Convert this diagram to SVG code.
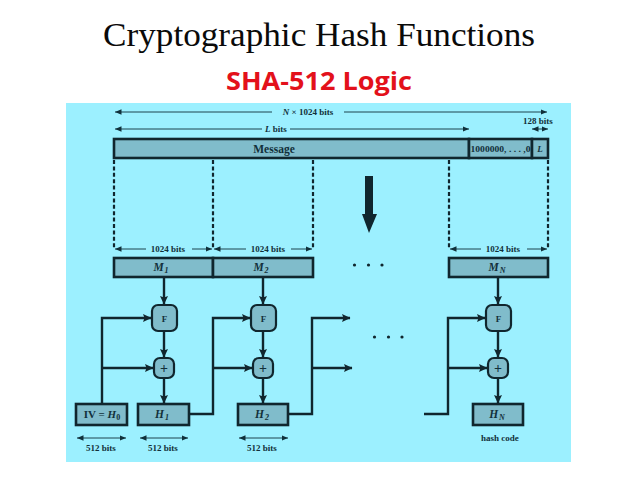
<svg xmlns="http://www.w3.org/2000/svg" width="638" height="478" viewBox="0 0 638 478">
<style>
.box{fill:#80bccb;stroke:#10262e;stroke-width:2.6}
.rbox{fill:#80bccb;stroke:#10262e;stroke-width:2.2}
.conn{fill:none;stroke:#10262e;stroke-width:2.4}
.thin{fill:none;stroke:#10303a;stroke-width:.9}
.dash{fill:none;stroke:#10262e;stroke-width:2.2;stroke-dasharray:4 2.4}
.t{font-family:"Liberation Serif",serif;font-weight:bold;fill:#12303a;text-anchor:middle}
.s{font-size:9px}
.m{font-size:11.5px}
.i{font-style:italic}
.sub{font-size:8px;font-style:italic}
.dot{fill:#10262e}
</style>
<defs>
<marker id="a" markerUnits="userSpaceOnUse" markerWidth="9" markerHeight="8" refX="8" refY="4" orient="auto"><path d="M0 0L8.5 4L0 8L1.5 4Z" fill="#10262e"/></marker>
<marker id="b" markerUnits="userSpaceOnUse" markerWidth="7" markerHeight="6" refX="6.5" refY="3" orient="auto-start-reverse"><path d="M0 .3L6.5 3L0 5.7Z" fill="#10303a"/></marker>
</defs>
<rect width="638" height="478" fill="#fff"/>
<rect x="66" y="103" width="505" height="359" fill="#9cf0ff"/>
<text x="319" y="46" font-family="'Liberation Serif',serif" font-size="33" fill="#0a0a0a" text-anchor="middle" textLength="432" lengthAdjust="spacingAndGlyphs">Cryptographic Hash Functions</text>
<text x="319" y="90" font-family="'Open Sans',sans-serif" font-weight="bold" font-size="25" fill="#e3111b" text-anchor="middle" textLength="186" lengthAdjust="spacingAndGlyphs">SHA-512 Logic</text>

<g id="connectors">
<path class="thin" marker-start="url(#b)" d="M115 112H272"/>
<path class="thin" marker-end="url(#b)" d="M344 112H547"/>
<path class="thin" marker-start="url(#b)" d="M115 129H262"/>
<path class="thin" marker-end="url(#b)" d="M290 129H469"/>
<path class="thin" marker-start="url(#b)" marker-end="url(#b)" d="M532 129H548"/>
<path class="dash" d="M114 160V248M213 160V248M313 160V248M449 160V248M548 160V248"/>
<path class="thin" marker-start="url(#b)" d="M115 249H146"/>
<path class="thin" marker-end="url(#b)" d="M192 249H212"/>
<path class="thin" marker-start="url(#b)" d="M214 249H246"/>
<path class="thin" marker-end="url(#b)" d="M291 249H312"/>
<path class="thin" marker-start="url(#b)" d="M450 249H481"/>
<path class="thin" marker-end="url(#b)" d="M527 249H547"/>
<path class="conn" marker-end="url(#a)" d="M164 277V304"/>
<path class="conn" marker-end="url(#a)" d="M263 277V304"/>
<path class="conn" marker-end="url(#a)" d="M498 277V304"/>
<path class="conn" marker-end="url(#a)" d="M164 331V357"/>
<path class="conn" marker-end="url(#a)" d="M263 331V357"/>
<path class="conn" marker-end="url(#a)" d="M498 331V357"/>
<path class="conn" marker-end="url(#a)" d="M164 378V403"/>
<path class="conn" marker-end="url(#a)" d="M263 378V403"/>
<path class="conn" marker-end="url(#a)" d="M498 378V403"/>
<path class="conn" marker-end="url(#a)" d="M102 404V318H151"/>
<path class="conn" marker-end="url(#a)" d="M102 368H153"/>
<path class="conn" marker-end="url(#a)" d="M189 414H213V318H250"/>
<path class="conn" marker-end="url(#a)" d="M213 368H252"/>
<path class="conn" marker-end="url(#a)" d="M288 414H312V318H350"/>
<path class="conn" marker-end="url(#a)" d="M312 368H352"/>
<path class="conn" marker-end="url(#a)" d="M424 414H448V318H485"/>
<path class="conn" marker-end="url(#a)" d="M448 368H487"/>
<path class="thin" marker-start="url(#b)" marker-end="url(#b)" d="M77 438H126"/>
<path class="thin" marker-start="url(#b)" marker-end="url(#b)" d="M140 438H188"/>
<path class="thin" marker-start="url(#b)" marker-end="url(#b)" d="M239 438H288"/>
<path d="M365 176H373V214H377L369 233L362 214H365Z" fill="#10262e"/>
</g>

<g id="message"><rect class="box" x="114" y="139" width="355" height="19"/><text class="t m" x="274" y="153">Message</text></g>
<g id="padding"><rect class="box" x="469" y="139" width="63" height="19"/><text class="t" font-size="8.5" x="500.500" y="152" textLength="60" lengthAdjust="spacingAndGlyphs">1000000, . . . ,0</text></g>
<g id="length"><rect class="box" x="532" y="139" width="16" height="19"/><text class="t i s" x="540" y="152">L</text></g>

<g id="m1"><rect class="box" x="114" y="258" width="99" height="19"/><text class="t m i" x="161" y="271">M<tspan class="sub" dy="2" dx="1">1</tspan></text></g>
<g id="m2"><rect class="box" x="213" y="258" width="100" height="19"/><text class="t m i" x="261" y="271">M<tspan class="sub" dy="2" dx="1">2</tspan></text></g>
<g id="mn"><rect class="box" x="449" y="258" width="99" height="19"/><text class="t m i" x="497" y="271">M<tspan class="sub" dy="2" dx="1">N</tspan></text></g>

<g id="f1"><rect class="rbox" x="152" y="305" width="25" height="26" rx="6"/><text class="t s" x="164.500" y="322">F</text></g>
<g id="f2"><rect class="rbox" x="251" y="305" width="25" height="26" rx="6"/><text class="t s" x="263.500" y="322">F</text></g>
<g id="fn"><rect class="rbox" x="486" y="305" width="25" height="26" rx="6"/><text class="t s" x="498.500" y="322">F</text></g>
<g id="add1"><rect class="rbox" x="154" y="358" width="20" height="20" rx="6"/><text class="t" font-size="14" x="164" y="372.500">+</text></g>
<g id="add2"><rect class="rbox" x="253" y="358" width="20" height="20" rx="6"/><text class="t" font-size="14" x="263" y="372.500">+</text></g>
<g id="addn"><rect class="rbox" x="488" y="358" width="20" height="20" rx="6"/><text class="t" font-size="14" x="498" y="372.500">+</text></g>

<g id="iv"><rect class="box" x="76" y="404" width="51" height="21"/><text class="t" font-size="11" x="102" y="418">IV = <tspan class="i">H</tspan><tspan font-size="8" dy="1.500">0</tspan></text></g>
<g id="h1"><rect class="box" x="138" y="404" width="51" height="21"/><text class="t m i" x="162" y="418">H<tspan class="sub" dy="2" dx="1">1</tspan></text></g>
<g id="h2"><rect class="box" x="238" y="404" width="50" height="21"/><text class="t m i" x="262" y="418">H<tspan class="sub" dy="2" dx="1">2</tspan></text></g>
<g id="hn"><rect class="box" x="473" y="404" width="50" height="21"/><text class="t m i" x="497" y="418">H<tspan class="sub" dy="2" dx="1">N</tspan></text></g>

<g id="labels">
<text class="t s" x="308" y="115"><tspan class="i">N</tspan> × 1024 bits</text>
<text class="t s" x="276" y="132"><tspan class="i">L</tspan> bits</text>
<text class="t s" x="538" y="124">128 bits</text>
<text class="t s" x="168" y="252">1024  bits</text>
<text class="t s" x="268" y="252">1024  bits</text>
<text class="t s" x="503" y="252">1024  bits</text>
<text class="t s" x="101" y="451">512  bits</text>
<text class="t s" x="163" y="451">512  bits</text>
<text class="t s" x="262" y="451">512  bits</text>
<text class="t s" x="500" y="441">hash code</text>
</g>
<g id="dots">
<circle class="dot" cx="354.500" cy="265" r="1.600"/><circle class="dot" cx="368.500" cy="265" r="1.600"/><circle class="dot" cx="382" cy="265" r="1.600"/>
<circle class="dot" cx="374.500" cy="337" r="1.600"/><circle class="dot" cx="388.500" cy="337" r="1.600"/><circle class="dot" cx="402" cy="337" r="1.600"/>
</g>
</svg>
